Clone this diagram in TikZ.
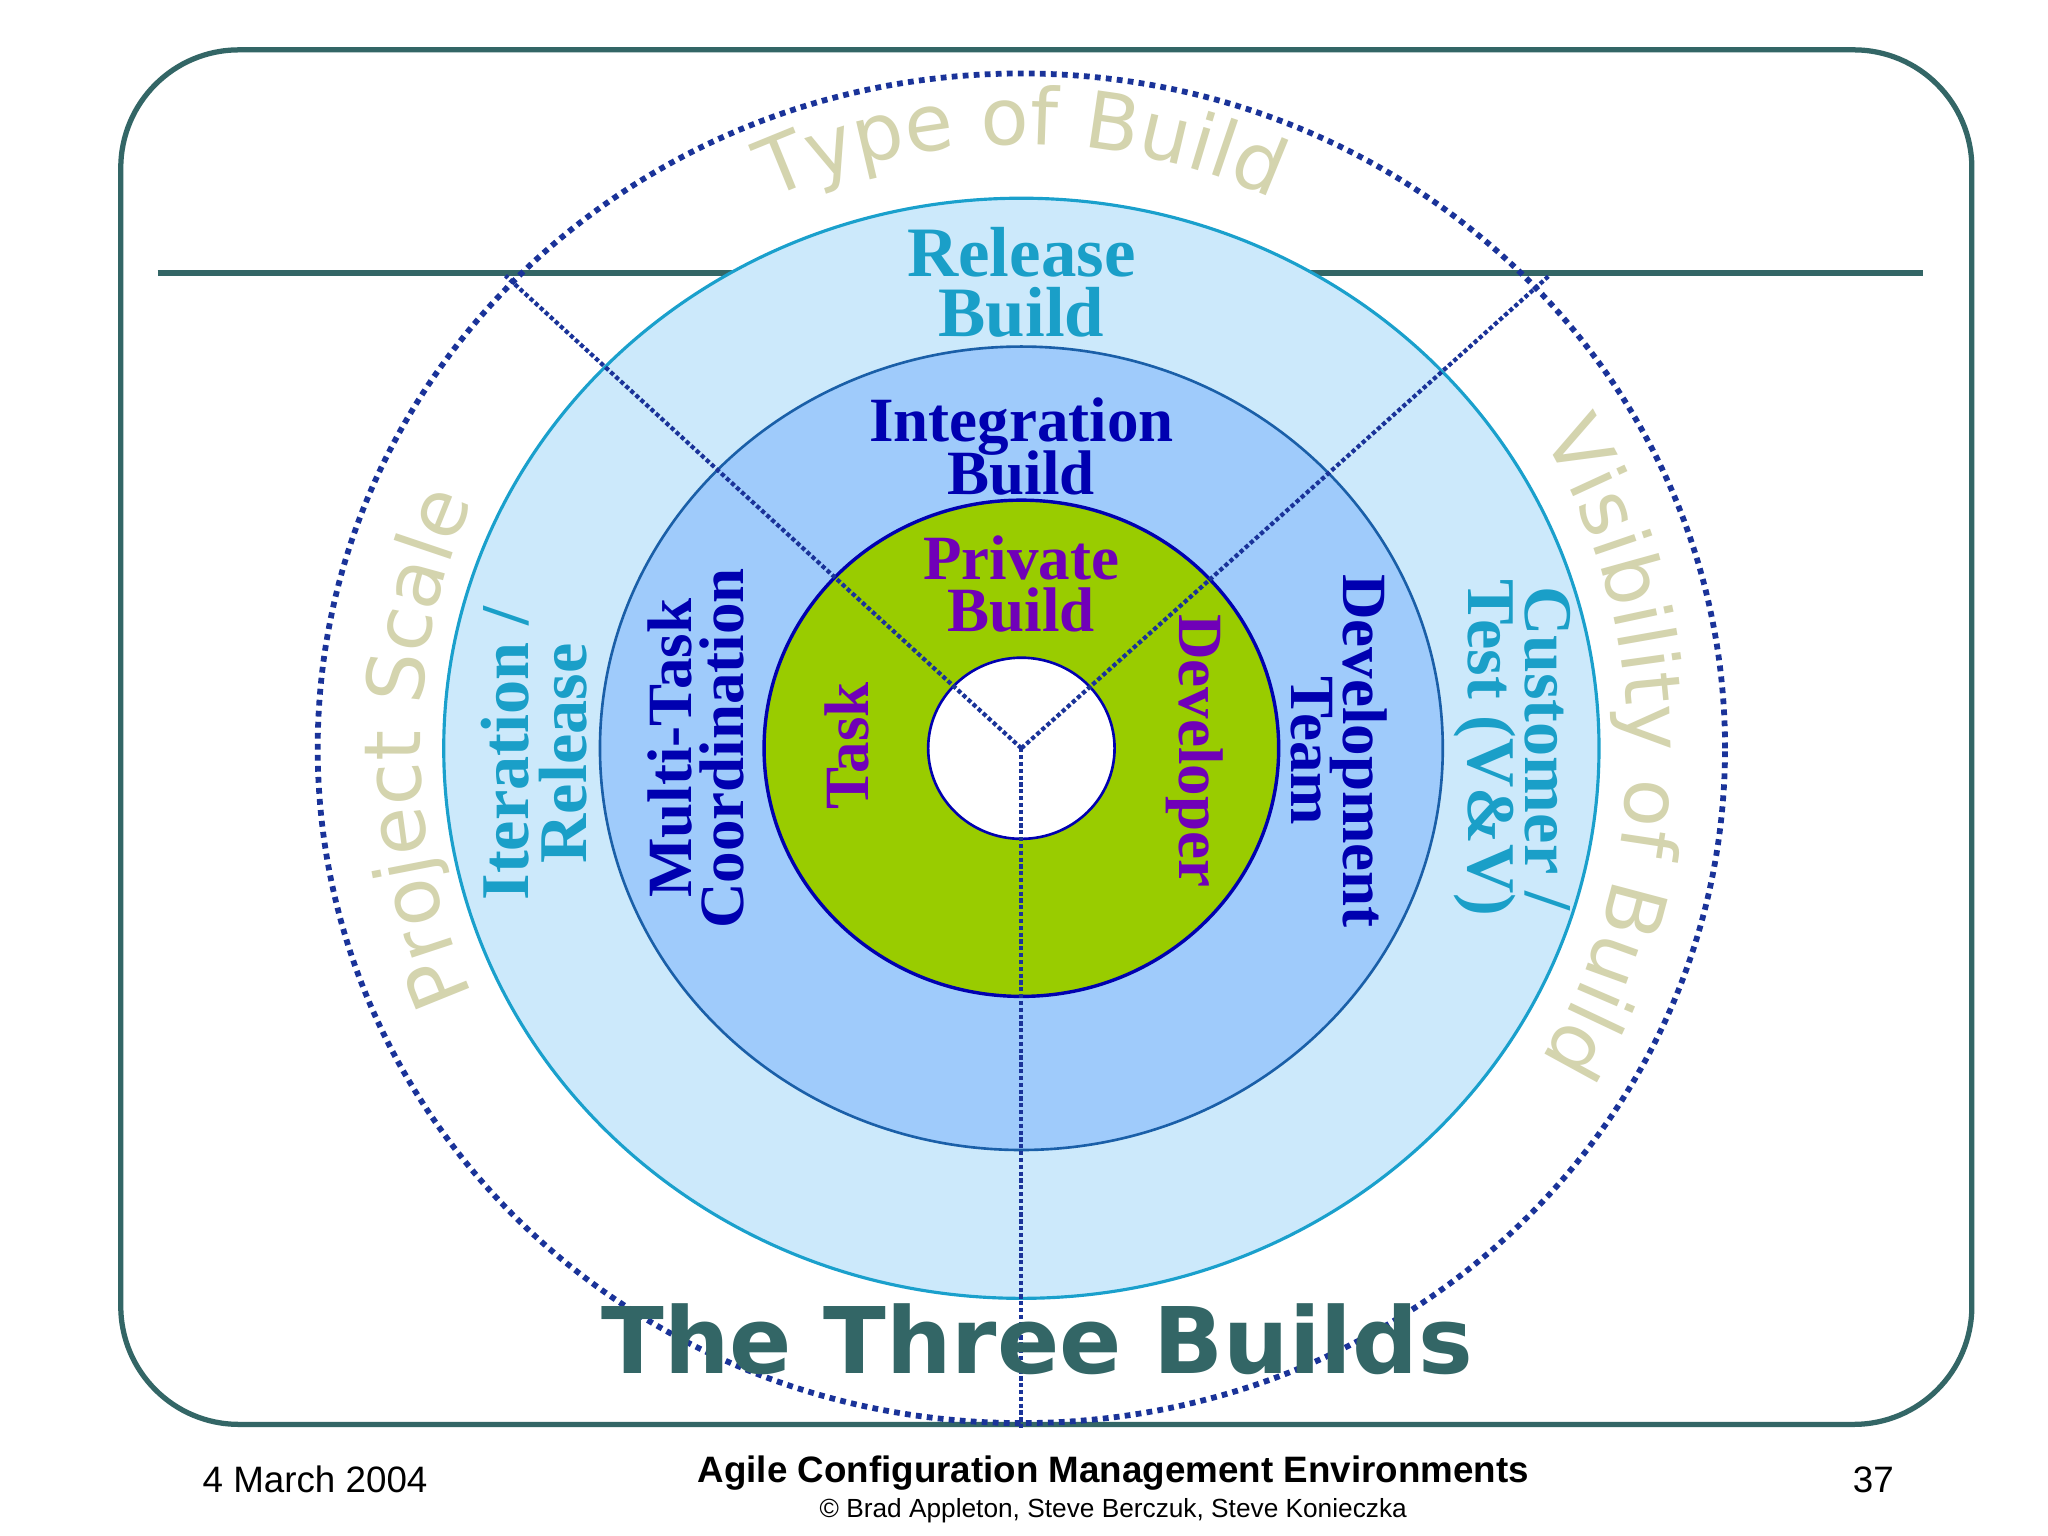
\documentclass[tikz,border=0pt]{standalone}
\usepackage{fontspec}
\setmainfont{Liberation Serif}
\setsansfont{DejaVu Sans}
\newfontfamily\arialf{Liberation Sans}
\usetikzlibrary{decorations.text}
\definecolor{teal}{HTML}{336666}
\definecolor{beige}{HTML}{D4D4AE}
\definecolor{relfill}{HTML}{CCE9FB}
\definecolor{relline}{HTML}{1AA0CC}
\definecolor{relt}{HTML}{1A9FC8}
\definecolor{intfill}{HTML}{9FCBFB}
\definecolor{intline}{HTML}{1A5FA8}
\definecolor{intt}{HTML}{0000B0}
\definecolor{grn}{HTML}{99CC00}
\definecolor{privt}{HTML}{7000B8}
\definecolor{navy}{HTML}{1A3399}
\begin{document}
\begin{tikzpicture}[x=0.5pt,y=0.5pt,
  lbl/.style={font=\bfseries\fontsize{#1}{#1}\selectfont, align=center, inner sep=0pt},
  lbl/.default=24,
  dotl/.style={navy, densely dotted, line width=1.6pt},
  arctext/.style={decorate, decoration={text along path, text align=center, text={|\sffamily\fontsize{30}{30}\selectfont\color{beige}|#1}}}]
\useasboundingbox (0,0) rectangle (1560,1170);
\fill[white] (0,0) rectangle (1560,1170);
\draw[teal, line width=2pt, rounded corners=45pt] (92,85) rectangle (1502,1132);
\draw[teal, line width=2.2pt] (120,962) -- (1465,962);
\coordinate (c) at (778,600);
\draw[navy, dotted, line width=2.2pt] (c) ellipse [x radius=536, y radius=514];
\draw[relline, line width=1.2pt, fill=relfill] (c) ellipse [x radius=440, y radius=419];
\draw[intline, line width=1pt, fill=intfill] (c) ellipse [x radius=321, y radius=306];
\draw[intt, line width=1.3pt, fill=grn] (c) ellipse [x radius=196, y radius=189];
\draw[intt, line width=1pt, fill=white] (c) ellipse [x radius=71, y radius=69];
\coordinate (ul) at (385,960);
\coordinate (ur) at (1180,960);
\coordinate (bt) at (778,80);
\draw[dotl] (c) -- (ul);
\draw[dotl] (c) -- (ur);
\draw[dotl] (c) -- (bt);
\path[arctext={Type of Build}] ([shift={(150:460)}]c) arc[start angle=150, end angle=30, radius=460];
\path[arctext={Project Scale}] ([shift={(230:458)}]c) arc[start angle=230, end angle=130, radius=458];
\path[arctext={Visibility of Build}] ([shift={(58:462)}]c) arc[start angle=58, end angle=-58, radius=462];
\node[lbl=27, text=relt] (rel) at (778,955) {Release\\[-4pt]Build};
\node[lbl=24, text=intt] (int) at (778,830) {Integration\\[-4pt]Build};
\node[lbl=24, text=privt] (priv) at (778,725) {Private\\[-4pt]Build};
\node[lbl=24, text=privt, rotate=90] (task) at (645,602) {Task};
\node[lbl=24, text=privt, rotate=-90] (dev) at (910,598) {Developer};
\node[lbl=24, text=intt, rotate=90] (mtc) at (530,600) {Multi-Task\\[-4pt]Coordination};
\node[lbl=24, text=intt, rotate=-90] (dt) at (1020,598) {Development\\[-4pt]Team};
\node[lbl=26, text=relt, rotate=90] (ir) at (407,596) {Iteration /\\[-4pt]Release};
\node[lbl=26, text=relt, rotate=-90] (ct) at (1152,600) {Customer /\\[-4pt]Test (V\&V)};
\node[font=\sffamily\bfseries\fontsize{35}{35}\selectfont, text=teal, inner sep=0pt] (title) at (790,150) {The Three Builds};
\node[font=\arialf\fontsize{14}{14}\selectfont, inner sep=0pt] (date) at (240,43) {4 March 2004};
\node[font=\arialf\bfseries\fontsize{14}{14}\selectfont, inner sep=0pt] (foot) at (848,48) {Agile Configuration Management Environments};
\node[font=\arialf\fontsize{10}{10}\selectfont, inner sep=0pt] (copy) at (848,19) {© Brad Appleton, Steve Berczuk, Steve Konieczka};
\node[font=\arialf\fontsize{14}{14}\selectfont, inner sep=0pt] (num) at (1427,43) {37};
\end{tikzpicture}
\end{document}
